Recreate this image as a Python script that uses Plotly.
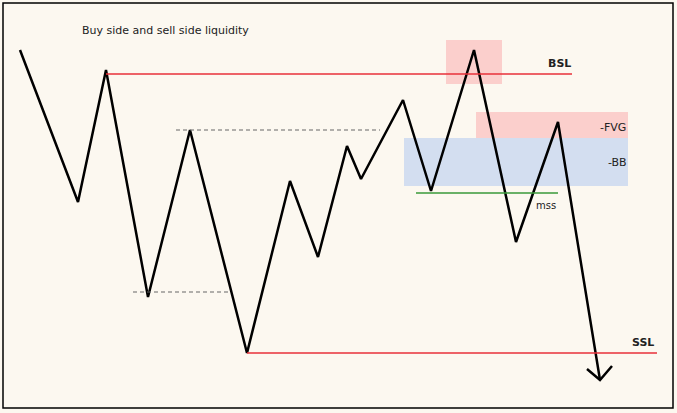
import plotly.graph_objects as go

# price path (x, y in chart units; y measured downward)
px = [20, 78, 106, 148, 190, 247, 290, 318, 347, 361, 403, 431, 474, 516, 558, 600]
py = [50, 202, 70, 297, 130, 353, 181, 257, 146, 179, 100, 191, 50, 242, 122, 380]
arrow_x = [587, 600, 612]
arrow_y = [369, 380, 366]

fig = go.Figure()
fig.add_trace(go.Scatter(x=px, y=py, mode="lines", line=dict(color="black", width=2.5), hoverinfo="skip"))
fig.add_trace(go.Scatter(x=arrow_x, y=arrow_y, mode="lines", line=dict(color="black", width=2.5), hoverinfo="skip"))

shapes = [
    dict(type="rect", x0=446, x1=502, y0=40, y1=84, fillcolor="rgba(250,180,180,0.6)", line_width=0, layer="below"),
    dict(type="rect", x0=476, x1=628, y0=112, y1=138, fillcolor="rgba(250,180,180,0.6)", line_width=0, layer="below"),
    dict(type="rect", x0=404, x1=628, y0=138, y1=186, fillcolor="rgba(170,195,240,0.5)", line_width=0, layer="below"),
    dict(type="line", x0=106, x1=572, y0=74, y1=74, line=dict(color="#e8303a", width=1.5)),
    dict(type="line", x0=247, x1=657, y0=353, y1=353, line=dict(color="#e8303a", width=1.5)),
    dict(type="line", x0=176, x1=380, y0=130, y1=130, line=dict(color="#666", width=1, dash="4px,3px")),
    dict(type="line", x0=133, x1=230, y0=292, y1=292, line=dict(color="#666", width=1, dash="4px,3px")),
    dict(type="line", x0=416, x1=558, y0=193, y1=193, line=dict(color="#3a9a3a", width=1.5)),
    dict(type="rect", x0=3, x1=673, y0=3, y1=408, line=dict(color="black", width=1.5)),
]
anns = [
    (80, 30, "Buy side and sell side liquidity", 11, "left"),
    (546, 63, "<b>BSL</b>", 11, "left"),
    (598, 127, "-FVG", 11, "left"),
    (606, 162, "-BB", 11, "left"),
    (534, 205, "mss", 10, "left"),
    (630, 342, "<b>SSL</b>", 11, "left"),
]
fig.update_layout(
    width=677, height=413, margin=dict(l=0, r=0, t=0, b=0),
    paper_bgcolor="#fcf8f0", plot_bgcolor="#fcf8f0", showlegend=False,
    xaxis=dict(range=[0, 677], visible=False, fixedrange=True),
    yaxis=dict(range=[413, 0], visible=False, fixedrange=True),
    shapes=shapes,
    annotations=[dict(x=x, y=y, text=t, showarrow=False, xanchor=a, font=dict(size=s, color="#222", family="DejaVu Sans")) for x, y, t, s, a in anns],
)
fig.write_html("out.html", config={"displayModeBar": False},
               post_script="document.body.style.margin='0';document.body.style.overflow='hidden';")
